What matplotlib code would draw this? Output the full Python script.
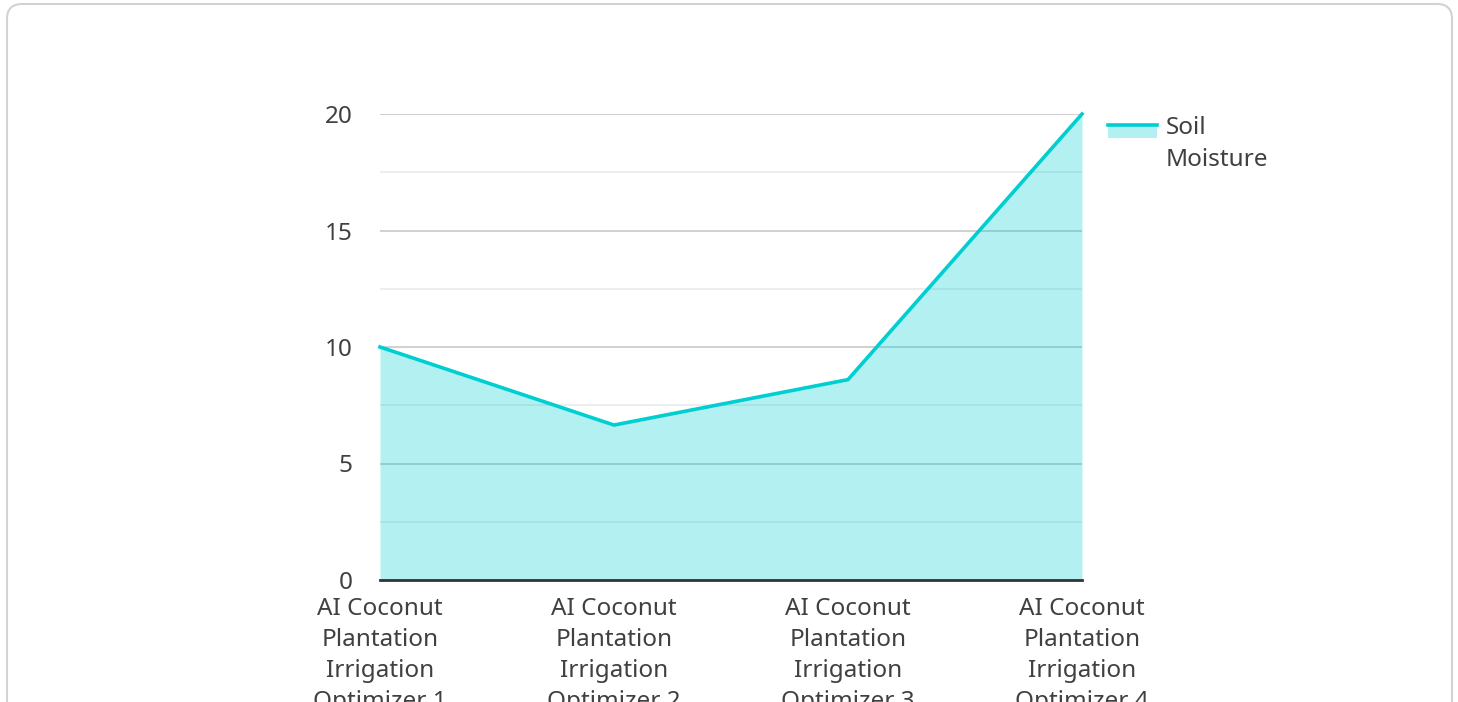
import matplotlib
matplotlib.use("Agg")
import matplotlib.pyplot as plt
from matplotlib.patches import FancyBboxPatch, Rectangle
from matplotlib.lines import Line2D
from matplotlib.ticker import MultipleLocator

plt.rcParams['font.family'] = ['Noto Sans', 'DejaVu Sans']

categories = [
    "AI Coconut\nPlantation\nIrrigation\nOptimizer 1",
    "AI Coconut\nPlantation\nIrrigation\nOptimizer 2",
    "AI Coconut\nPlantation\nIrrigation\nOptimizer 3",
    "AI Coconut\nPlantation\nIrrigation\nOptimizer 4",
]
soil_moisture = [10.0, 6.65, 8.6, 20.0]
series_name = "Soil Moisture"
y_ticks = [0, 5, 10, 15, 20]

W, H = 1458, 702
LINE = "#00CED1"
TEXT = "#404040"
FS = 17.5

fig = plt.figure(figsize=(W / 100, H / 100), dpi=100)
fig.patch.set_facecolor("white")

# rounded card outline (inch coordinates so the corners stay circular)
card = FancyBboxPatch((0.07, -1.0), 14.45, (H - 4) / 100 + 1.0,
                      transform=fig.dpi_scale_trans,
                      boxstyle="round,pad=0,rounding_size=0.15",
                      facecolor="none", edgecolor="#d2d2d2", linewidth=1.5)
fig.add_artist(card)

ax = fig.add_axes([380 / W, (H - 580) / H, (1082 - 380) / W, (580 - 114) / H])
x = list(range(len(categories)))

ax.fill_between(x, soil_moisture, 0, color=LINE, alpha=0.3, linewidth=0, zorder=2)
ax.plot(x, soil_moisture, color=LINE, linewidth=2.6, zorder=3, clip_on=False,
        solid_joinstyle="miter")

ax.set_xlim(0, len(categories) - 1)
ax.set_ylim(0, 20)
ax.set_yticks(y_ticks)
ax.yaxis.set_minor_locator(MultipleLocator(2.5))
ax.grid(axis="y", which="major", color="#c4c4c4", linewidth=1.1, zorder=1)
ax.grid(axis="y", which="minor", color="#e8e8e8", linewidth=1.1, zorder=1)
ax.set_axisbelow(True)

for s in ["top", "right", "left"]:
    ax.spines[s].set_visible(False)
ax.spines["bottom"].set_color("#333333")
ax.spines["bottom"].set_linewidth(2)
ax.spines["bottom"].set_zorder(4)

ax.set_xticks(x)
ax.set_xticklabels(categories, linespacing=1.4)
ax.tick_params(axis="x", length=0, pad=12, labelsize=FS, colors=TEXT)
ax.tick_params(axis="y", which="both", length=0, pad=19.5, labelsize=FS, colors=TEXT)
ax.set_facecolor("none")

# legend: line swatch over a filled band, with wrapped label
fig.add_artist(Rectangle((1108 / W, (H - 138) / H), 49 / W, 12 / H,
                         transform=fig.transFigure, facecolor=LINE, alpha=0.3,
                         linewidth=0))
fig.add_artist(Line2D([1108 / W, 1157 / W], [(H - 125) / H] * 2,
                      transform=fig.transFigure, color=LINE, linewidth=2.6))
fig.text(1166 / W, (H - 116) / H, "Soil\nMoisture", fontsize=FS, color=TEXT,
         ha="left", va="top", linespacing=1.42)

fig.savefig("out.png", dpi=100, facecolor="white")
